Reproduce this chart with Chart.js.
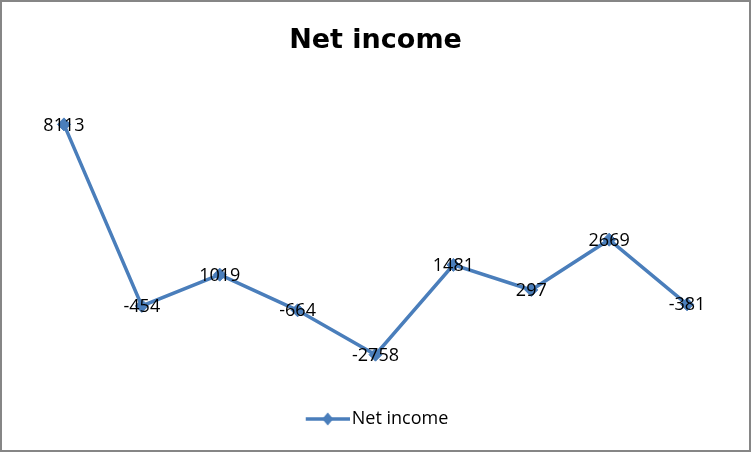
<!DOCTYPE html>
<html>
<head>
<meta charset="utf-8">
<title>Net income</title>
<script src="https://cdn.jsdelivr.net/npm/chart.js@4/dist/chart.umd.min.js"></script>
<style>
  html, body { margin: 0; padding: 0; background: #fff; }
  #wrap {
    width: 751px; height: 452px;
    box-sizing: border-box;
    border: 2px solid #868686;
    background: #fff;
  }
  canvas { display: block; }
</style>
</head>
<body>
<div id="wrap"><canvas id="chart" width="747" height="448"></canvas></div>
<script>
const categories = ['1', '2', '3', '4', '5', '6', '7', '8', '9'];
const netIncome = [8113, -454, 1019, -664, -2758, 1481, 297, 2669, -381];
const seriesName = 'Net income';
const yMin = -4000;
const yMax = 10000;

const LINE_COLOR = '#4A7EBB';

// legend swatch: short line with a diamond on it, like the spreadsheet legend
// (left 10px kept empty so the swatch sits where the original one does)
function legendSwatch() {
  const c = document.createElement('canvas');
  c.width = 54;
  c.height = 16;
  const g = c.getContext('2d');
  g.strokeStyle = LINE_COLOR;
  g.lineWidth = 3.5;
  g.beginPath();
  g.moveTo(10, 8);
  g.lineTo(54, 8);
  g.stroke();
  g.fillStyle = LINE_COLOR;
  g.beginPath();
  g.moveTo(32, 1.5);
  g.lineTo(37.5, 8);
  g.lineTo(32, 14.5);
  g.lineTo(26.5, 8);
  g.closePath();
  g.fill();
  return c;
}

// values written on top of each point
const pointLabels = {
  id: 'pointLabels',
  afterDatasetsDraw(chart) {
    const ctx = chart.ctx;
    const meta = chart.getDatasetMeta(0);
    ctx.save();
    ctx.font = '18px "Open Sans"';
    ctx.fillStyle = '#000';
    ctx.textAlign = 'center';
    ctx.textBaseline = 'middle';
    meta.data.forEach((pt, i) => {
      ctx.fillText(String(netIncome[i]), pt.x, pt.y + 1);
    });
    ctx.restore();
  }
};

const swatch = legendSwatch();

new Chart(document.getElementById('chart'), {
  type: 'line',
  data: {
    labels: categories,
    datasets: [{
      label: seriesName,
      data: netIncome,
      borderColor: LINE_COLOR,
      backgroundColor: LINE_COLOR,
      borderWidth: 3.5,
      tension: 0,
      pointStyle: 'rectRot',
      pointRadius: 6.5,
      pointBorderWidth: 1,
      pointBackgroundColor: LINE_COLOR,
      pointBorderColor: LINE_COLOR
    }]
  },
  options: {
    responsive: false,
    animation: false,
    layout: { padding: { left: 23, right: 23, top: 0, bottom: 12 } },
    scales: {
      x: { display: false, offset: true },
      y: { display: false, min: yMin, max: yMax }
    },
    plugins: {
      title: {
        display: true,
        text: seriesName,
        color: '#000',
        font: { family: '"DejaVu Sans"', size: 27, weight: 'bold', lineHeight: 1.2 },
        padding: { top: 23, bottom: 27 }
      },
      legend: {
        position: 'bottom',
        labels: {
          color: '#000',
          font: { family: '"Open Sans"', size: 18 },
          usePointStyle: true,
          pointStyleWidth: 40,
          padding: 29,
          generateLabels: () => [{
            text: seriesName,
            pointStyle: swatch,
            fillStyle: LINE_COLOR,
            strokeStyle: LINE_COLOR,
            lineWidth: 0,
            datasetIndex: 0
          }]
        }
      },
      tooltip: { enabled: false }
    }
  },
  plugins: [pointLabels]
});
</script>
</body>
</html>
